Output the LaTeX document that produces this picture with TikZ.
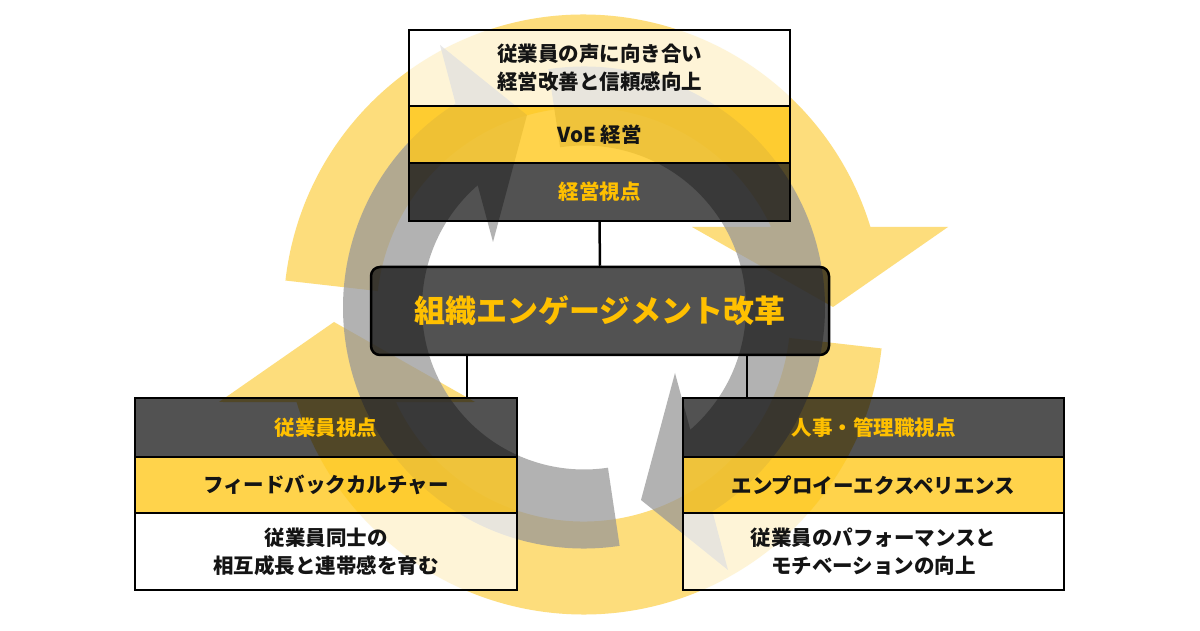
\documentclass[tikz,border=0pt]{standalone}
\usepackage{fontspec}
\setmainfont{Noto Sans CJK JP}
\definecolor{ringY}{RGB}{253,221,124}
\definecolor{ringG}{RGB}{152,152,152}
\definecolor{cellY}{RGB}{255,200,30}
\definecolor{gold}{RGB}{255,192,0}
\definecolor{ink}{RGB}{20,20,20}
\begin{document}
\begin{tikzpicture}[x=1pt,y=1pt,
  cellbase/.style={draw=black, line width=2pt, inner sep=0pt, align=center,
    text opacity=1, draw opacity=1,
    font=\bfseries\fontsize{20.5}{28}\selectfont},
  cellw/.style={cellbase, fill=white, fill opacity=0.7, text=ink},
  celly/.style={cellbase, fill=cellY, fill opacity=0.8, text=ink},
  celld/.style={cellbase, fill=black, fill opacity=0.68, text=gold},
  hub/.style={draw=black, line width=2.5pt, rounded corners=9pt, fill=black,
    fill opacity=0.68, draw opacity=1, text opacity=1, text=gold,
    inner sep=0pt, font=\bfseries\fontsize{31}{36}\selectfont},
  link/.style={draw=black, line width=2.5pt},
  yseg/.style={fill=ringY},
  gseg/.style={fill=ringG, fill opacity=0.74}
]
\useasboundingbox (0,0) rectangle (1200,630);
\fill[white] (0,0) rectangle (1200,630);

% yellow outer ring (two clockwise segments)
\begin{scope}[shift={(583.5,315.5)}]
  \fill[yseg] (173.5:300) arc[start angle=173.5, end angle=16.96, radius=300]
    -- (364.5,87.5) -- (249.5,7.5) -- (108.5,87.5)
    -- (25.01:207) arc[start angle=25.01, end angle=173.5, radius=207] -- cycle;
\end{scope}
\begin{scope}[shift={(583.5,315.5)}, rotate=180]
  \fill[yseg] (173.5:300) arc[start angle=173.5, end angle=16.96, radius=300]
    -- (364.5,87.5) -- (249.5,7.5) -- (108.5,87.5)
    -- (25.01:207) arc[start angle=25.01, end angle=173.5, radius=207] -- cycle;
\end{scope}

% gray inner ring (two clockwise segments)
\begin{scope}[shift={(584,322.5)}]
  \fill[gseg] (278.5:241) arc[start angle=278.5, end angle=122.2, radius=241]
    -- (-144,262.5) -- (-57,192.5) -- (-91,65.5)
    -- (131.0:162) arc[start angle=131.0, end angle=278.5, radius=162] -- cycle;
\end{scope}
\begin{scope}[shift={(584,322.5)}, rotate=180]
  \fill[gseg] (278.5:241) arc[start angle=278.5, end angle=122.2, radius=241]
    -- (-144,262.5) -- (-57,192.5) -- (-91,65.5)
    -- (131.0:162) arc[start angle=131.0, end angle=278.5, radius=162] -- cycle;
\end{scope}

% top box
\node[cellw, minimum width=381pt, minimum height=76pt] (tw) at (599.5,562)
  {従業員の声に向き合い\\経営改善と信頼感向上};
\node[celly, minimum width=381pt, minimum height=57pt] (ty) at (599.5,495.5) {VoE 経営};
\node[celld, minimum width=381pt, minimum height=58pt] (td) at (599.5,438) {経営視点};

% hub
\node[hub, minimum width=458pt, minimum height=88pt] (hub) at (600,319)
  {組織エンゲージメント改革};

% bottom-left box
\node[celld, minimum width=382pt, minimum height=59pt] (ld) at (326,202.5) {従業員視点};
\node[celly, minimum width=382pt, minimum height=56pt] (ly) at (326,145) {フィードバックカルチャー};
\node[cellw, minimum width=382pt, minimum height=77pt] (lw) at (326,78.5)
  {従業員同士の\\相互成長と連帯感を育む};

% bottom-right box
\node[celld, minimum width=381pt, minimum height=59pt] (rd) at (873.5,202.5) {人事・管理職視点};
\node[celly, minimum width=381pt, minimum height=56pt] (ry) at (873.5,145) {エンプロイーエクスペリエンス};
\node[cellw, minimum width=381pt, minimum height=77pt] (rw) at (873.5,78.5)
  {従業員のパフォーマンスと\\モチベーションの向上};

% connectors
\coordinate (lj) at (467,0);
\coordinate (rj) at (747,0);
\draw[link] (td.south) -- (hub.north);
\draw[link] (lj |- hub.south) -- (lj |- ld.north);
\draw[link] (rj |- hub.south) -- (rj |- rd.north);
\end{tikzpicture}
\end{document}
